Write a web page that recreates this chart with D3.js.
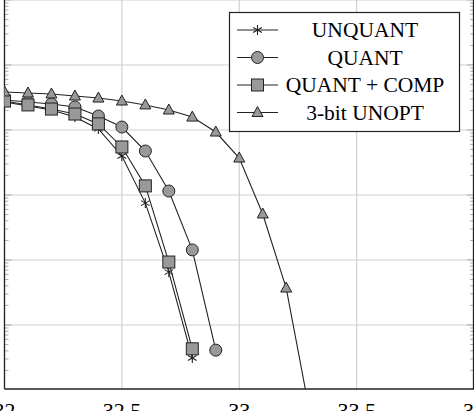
<!DOCTYPE html>
<html><head><meta charset="utf-8">
<script src="https://cdn.jsdelivr.net/npm/d3@7"></script>
<style>body{margin:0;background:#fff}</style>
</head><body>
<div id="chart"></div>
<script>
var svgWidth = 474, svgHeight = 411;
var plot = {left: 4.5, right: 474, top: -10, bottom: 389};

// data
var xUnquant = [32.0, 32.1, 32.2, 32.3, 32.4, 32.5, 32.6, 32.7, 32.8];
var yUnquant = [0.027, 0.0234, 0.0203, 0.0158, 0.0104, 0.00398, 7.5e-4, 6.5e-5, 3.1e-6];
var xQuant = [32.0, 32.1, 32.2, 32.3, 32.4, 32.5, 32.6, 32.7, 32.8, 32.9];
var yQuant = [0.029, 0.027, 0.0251, 0.0226, 0.0164, 0.0111, 0.00475, 0.00115, 1.43e-4, 4.1e-6];
var xComp = [32.0, 32.1, 32.2, 32.3, 32.4, 32.5, 32.6, 32.7, 32.8];
var yComp = [0.0279, 0.0243, 0.021, 0.0176, 0.0124, 0.00548, 0.00138, 9.3e-5, 4.3e-6];
var xUnopt = [32.0, 32.1, 32.2, 32.3, 32.4, 32.5, 32.6, 32.7, 32.8, 32.9, 33.0, 33.1, 33.2, 33.3];
var yUnopt = [0.0385, 0.0371, 0.0358, 0.0333, 0.031, 0.0279, 0.0243, 0.0203, 0.0158, 0.0093, 0.0037, 5.1e-4, 3.7e-5, 4.6e-7];
var xTicks = [32, 32.5, 33, 33.5, 34];
var xTickLabels = ["32", "32.5", "33", "33.5", "34"];
var seriesNames = ["UNQUANT", "QUANT", "QUANT + COMP", "3-bit UNOPT"];

var series = [
  {name: seriesNames[0], xs: xUnquant, ys: yUnquant, marker: "star"},
  {name: seriesNames[1], xs: xQuant, ys: yQuant, marker: "circle"},
  {name: seriesNames[2], xs: xComp, ys: yComp, marker: "square"},
  {name: seriesNames[3], xs: xUnopt, ys: yUnopt, marker: "triangle"}
];

var svg = d3.select("#chart").append("svg")
  .attr("width", svgWidth).attr("height", svgHeight)
  .style("font-family", "'Liberation Serif', 'DejaVu Serif', serif");

var x = d3.scaleLinear().domain([32, 34]).range([plot.left, plot.right]);
var y = d3.scaleLog().domain([1, Math.pow(10, -5.985)]).range([0, plot.bottom]);

svg.append("clipPath").attr("id", "clip").append("rect")
  .attr("x", plot.left).attr("y", plot.top)
  .attr("width", plot.right - plot.left).attr("height", plot.bottom - plot.top);

// grid
var decades = d3.range(0, -7, -1).map(e => Math.pow(10, e)).filter(v => y(v) <= plot.bottom);
svg.append("g").selectAll("line").data(decades).enter().append("line")
  .attr("x1", plot.left).attr("x2", plot.right)
  .attr("y1", d => y(d)).attr("y2", d => y(d))
  .attr("stroke", "#d0d0d0").attr("stroke-width", 1.2);
svg.append("g").selectAll("line").data(xTicks).enter().append("line")
  .attr("x1", d => x(d)).attr("x2", d => x(d))
  .attr("y1", plot.top).attr("y2", plot.bottom)
  .attr("stroke", "#d0d0d0").attr("stroke-width", 1.2);

// log minor ticks on both sides
var minors = [];
d3.range(-7, 1).forEach(function(e) {
  for (var k = 1; k < 10; k++) minors.push({v: k * Math.pow(10, e), major: k === 1});
});
minors = minors.filter(d => y(d.v) <= plot.bottom && y(d.v) >= plot.top);
[plot.left, plot.right].forEach(function(px, i) {
  var dir = i === 0 ? 1 : -1;
  svg.append("g").selectAll("line").data(minors).enter().append("line")
    .attr("x1", px).attr("x2", d => px + dir * (d.major ? 7 : 4))
    .attr("y1", d => y(d.v)).attr("y2", d => y(d.v))
    .attr("stroke", "#999").attr("stroke-width", 0.8);
});

// axes frame
svg.append("line").attr("x1", plot.left).attr("x2", plot.left)
  .attr("y1", plot.top).attr("y2", plot.bottom).attr("stroke", "#222").attr("stroke-width", 1.3);
svg.append("line").attr("x1", plot.right - 0.5).attr("x2", plot.right - 0.5)
  .attr("y1", plot.top).attr("y2", plot.bottom).attr("stroke", "#222").attr("stroke-width", 1.3);
svg.append("line").attr("x1", plot.left).attr("x2", plot.right)
  .attr("y1", plot.bottom).attr("y2", plot.bottom).attr("stroke", "#222").attr("stroke-width", 1.3);

svg.append("g").selectAll("text").data(xTicks).enter().append("text")
  .attr("x", d => x(d)).attr("y", 418)
  .attr("text-anchor", "middle").attr("font-size", 22)
  .text((d, i) => xTickLabels[i]);

function drawMarker(g, type, cx, cy) {
  var fill = "#999", st = "#222";
  if (type === "circle") {
    g.append("circle").attr("cx", cx).attr("cy", cy).attr("r", 6)
      .attr("fill", fill).attr("stroke", st).attr("stroke-width", 1);
  } else if (type === "square") {
    g.append("rect").attr("x", cx - 6).attr("y", cy - 6).attr("width", 12).attr("height", 12)
      .attr("fill", fill).attr("stroke", st).attr("stroke-width", 1);
  } else if (type === "triangle") {
    g.append("path").attr("d", `M${cx},${cy - 6}L${cx + 5.5},${cy + 4}L${cx - 5.5},${cy + 4}Z`)
      .attr("fill", fill).attr("stroke", st).attr("stroke-width", 1);
  } else {
    var r = 5, p = "";
    for (var a = 0; a < 3; a++) {
      var ang = Math.PI / 2 + a * Math.PI / 3;
      p += `M${cx + r * Math.cos(ang)},${cy + r * Math.sin(ang)}L${cx - r * Math.cos(ang)},${cy - r * Math.sin(ang)}`;
    }
    g.append("path").attr("d", p).attr("stroke", st).attr("stroke-width", 1.1).attr("fill", "none");
  }
}

var line = d3.line().x(d => x(d[0])).y(d => y(d[1]));
var plotG = svg.append("g").attr("clip-path", "url(#clip)");
series.forEach(function(s) {
  var pts = s.xs.map((v, i) => [v, s.ys[i]]);
  plotG.append("path").datum(pts).attr("d", line)
    .attr("fill", "none").attr("stroke", "#222").attr("stroke-width", 1.1);
});
series.forEach(function(s) {
  s.xs.forEach(function(v, i) {
    drawMarker(plotG, s.marker, x(v), y(s.ys[i]));
  });
});

// legend
var lg = svg.append("g");
lg.append("rect").attr("x", 229.5).attr("y", 12.5).attr("width", 230).attr("height", 119)
  .attr("fill", "#fff").attr("stroke", "#222").attr("stroke-width", 1.2);
series.forEach(function(s, i) {
  var ly = 30 + i * 27.5;
  lg.append("line").attr("x1", 237).attr("x2", 278).attr("y1", ly).attr("y2", ly)
    .attr("stroke", "#222").attr("stroke-width", 1.1);
  drawMarker(lg, s.marker, 257.5, ly);
  lg.append("text").attr("x", 365).attr("y", ly + 7).attr("text-anchor", "middle")
    .attr("font-size", 21.5).text(s.name);
});
</script>
</body></html>
